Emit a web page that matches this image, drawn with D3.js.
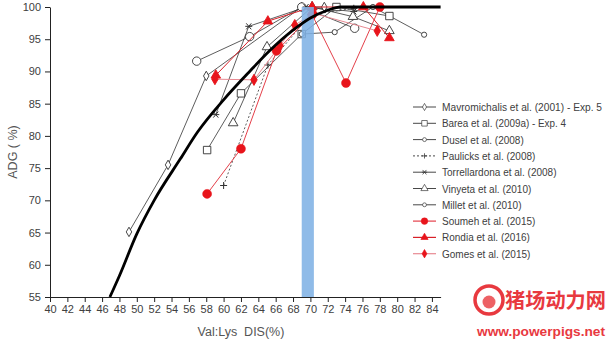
<!DOCTYPE html>
<html><head><meta charset="utf-8">
<script src="https://cdn.jsdelivr.net/npm/d3@7"></script>
<style>body{margin:0;background:#fff;} svg{display:block;font-family:"Liberation Sans",Arial,sans-serif;}</style>
</head><body><svg id="c" width="610" height="343"></svg>
<script>
// ---- data ----
const xTicks = [40,42,44,46,48,50,52,54,56,58,60,62,64,66,68,70,72,74,76,78,80,82,84];
const yTicks = [55,60,65,70,75,80,85,90,95,100];
const seriesNames = ["Mavromichalis et al. (2001) - Exp. 5","Barea et al. (2009a) - Exp. 4","Dusel et al. (2008)","Paulicks et al. (2008)","Torrellardona et al. (2008)","Vinyeta et al. (2010)","Millet et al. (2010)","Soumeh et al. (2015)","Rondia et al. (2016)","Gomes et al. (2015)"];
const mavromichalis = [[49.1,65.1],[53.6,75.5],[58.0,89.3],[69.0,100],[71.6,100]];
const barea = [[58.1,77.8],[62.0,86.6],[69.0,95.8],[73.0,100],[79.1,98.6]];
const dusel = [[56.9,91.6],[63.0,95.4],[69.0,100],[75.1,96.7]];
const paulicks = [[60.0,72.3],[65.1,91.0],[70.0,98.8],[75.0,99.8]];
const torrellardona = [[59.1,83.3],[62.9,97.0],[69.5,100],[75.0,99.3]];
const vinyeta = [[61.1,82.0],[65.0,93.8],[70.2,100],[74.9,98.5],[79.1,96.3]];
const millet = [[69.0,95.8],[72.8,96.1],[77.2,100],[83.1,95.7]];
const soumeh = [[58.1,71.0],[62.0,78.0],[66.1,93.2],[70.2,98.8],[74.1,88.2],[78.0,100]];
const rondia = [[59.1,89.4],[65.1,97.8],[70.2,100],[76.1,100],[79.1,95.2]];
const gomes = [[59.0,88.8],[63.5,88.7],[66.5,94.0],[68.2,97.2],[70.4,99.0],[77.7,96.3]];
const responseCurve = [[46.9,55],[48,58.3],[50,64.8],[52,70.0],[55,76.4],[57,80.6],[60,85.6],[63,90.0],[65.3,93.2],[68,96.4],[70,98.3],[72,99.5],[73.5,100],[85,100]];
const optimumBand = [69.0,70.4];

// ---- layout ----
const svg = d3.select("#c");
const x = d3.scaleLinear().domain([40,85]).range([50,440.6]);
const y = d3.scaleLinear().domain([55,100]).range([297,7]);
const txt = "#404040";

// axes
const xa = svg.append("g").attr("transform","translate(0,297)")
  .call(d3.axisBottom(x).tickValues(xTicks).tickSize(5).tickSizeOuter(0).tickPadding(3));
const ya = svg.append("g").attr("transform","translate(50,0)")
  .call(d3.axisLeft(y).tickValues(yTicks).tickSize(5).tickSizeOuter(0).tickPadding(4));
[xa,ya].forEach(a=>{
  a.selectAll("path,line").attr("stroke","#222").attr("stroke-width",1);
  a.selectAll("text").attr("fill",txt).style("font-size","11px");
});
svg.append("text").attr("transform","translate(17,152) rotate(-90)").attr("text-anchor","middle")
  .attr("fill","#555").style("font-size","12.5px").text("ADG ( %)");
svg.append("text").attr("x",241).attr("y",336).attr("text-anchor","middle")
  .attr("fill","#555").style("font-size","12.5px").attr("xml:space","preserve").text("Val:Lys  DIS(%)");

const line = d3.line().x(d=>x(d[0])).y(d=>y(d[1]));

const specs = [
  {d:mavromichalis, m:"diamond", c:"#333", fill:"#fff"},
  {d:barea, m:"square", c:"#333", fill:"#fff"},
  {d:dusel, m:"circle", c:"#333", fill:"#fff"},
  {d:paulicks, m:"plus", c:"#333", fill:"#fff", dash:"2,2"},
  {d:torrellardona, m:"asterisk", c:"#333", fill:"#fff"},
  {d:vinyeta, m:"triangle", c:"#333", fill:"#fff"},
  {d:millet, m:"smallcircle", c:"#333", fill:"#fff"},
  {d:soumeh, m:"bigcircle", c:"#e8141b", fill:"#e8141b", lc:"#e4404a"},
  {d:rondia, m:"triangle", c:"#e8141b", fill:"#e8141b", lc:"#d82028"},
  {d:gomes, m:"diamond2", c:"#e8141b", fill:"#e8141b", lc:"#e88a92"}
];

function marker(g, m, cx, cy, c, fill){
  const sym = (type,size)=>g.append("path").attr("d",d3.symbol().type(type).size(size)())
      .attr("transform",`translate(${cx},${cy})`).attr("fill",fill).attr("stroke",c).attr("stroke-width",0.9);
  if(m==="diamond") sym(d3.symbolDiamond,26);
  else if(m==="diamond2") sym(d3.symbolDiamond,36);
  else if(m==="square") sym(d3.symbolSquare,55);
  else if(m==="circle") g.append("circle").attr("cx",cx).attr("cy",cy).attr("r",4.2).attr("fill",fill).attr("stroke",c).attr("stroke-width",0.9);
  else if(m==="smallcircle") g.append("circle").attr("cx",cx).attr("cy",cy).attr("r",2.6).attr("fill",fill).attr("stroke",c).attr("stroke-width",0.9);
  else if(m==="bigcircle") g.append("circle").attr("cx",cx).attr("cy",cy).attr("r",4.5).attr("fill",fill).attr("stroke",c).attr("stroke-width",0.5);
  else if(m==="triangle") sym(d3.symbolTriangle,40);
  else if(m==="plus"){
    g.append("path").attr("d",`M${cx-3.5},${cy}h7M${cx},${cy-3.5}v7`).attr("stroke",c).attr("stroke-width",1);
  } else if(m==="asterisk"){
    g.append("path").attr("d",`M${cx-3.5},${cy}h7M${cx-2.5},${cy-3}l5,6M${cx+2.5},${cy-3}l-5,6`).attr("stroke",c).attr("stroke-width",1);
  }
}

// black series
const gS = svg.append("g");
specs.slice(0,7).forEach(s=>{
  gS.append("path").datum(s.d).attr("d",line).attr("fill","none").attr("stroke",s.lc||s.c)
    .attr("stroke-width",0.8).attr("stroke-dasharray",s.dash||null);
});
specs.slice(0,7).forEach(s=>s.d.forEach(p=>marker(gS,s.m,x(p[0]),y(p[1]),s.c,s.fill)));
// red series
specs.slice(7).forEach(s=>{
  gS.append("path").datum(s.d).attr("d",line).attr("fill","none").attr("stroke",s.lc)
    .attr("stroke-width",1);
});
specs.slice(7).forEach(s=>s.d.forEach(p=>marker(gS,s.m,x(p[0]),y(p[1]),s.c,s.fill)));

// optimum band
svg.append("rect").attr("x",x(optimumBand[0])).attr("width",x(optimumBand[1])-x(optimumBand[0]))
  .attr("y",y(100)).attr("height",y(55)-y(100)).attr("fill","#7fb2e5").attr("opacity",0.88);

// response curve
svg.append("path").datum(responseCurve).attr("d",d3.line().x(d=>x(d[0])).y(d=>y(d[1])).curve(d3.curveMonotoneX))
  .attr("fill","none").attr("stroke","#000").attr("stroke-width",2.8);

// legend
const lg = svg.append("g");
seriesNames.forEach((n,i)=>{
  const s = specs[i];
  const yy = 107 + i*16.3;
  lg.append("line").attr("x1",413).attr("x2",436).attr("y1",yy).attr("y2",yy)
    .attr("stroke",s.lc||s.c).attr("stroke-width",i>=7?1.2:0.9).attr("stroke-dasharray",s.dash||null);
  const mm = s.m==="circle"?"smallcircle":s.m;
  const g2 = lg.append("g");
  marker(g2, mm, 424.5, yy, s.c, s.fill);
  g2.attr("transform",`translate(424.5,${yy}) scale(0.75) translate(-424.5,${-yy})`);
  const t = lg.append("text").attr("x",442).attr("y",yy+4).attr("fill",txt).style("font-size","10px").text(n);
  if(i===0) t.attr("textLength",160).attr("lengthAdjust","spacingAndGlyphs");
  if(i===1) t.attr("textLength",124).attr("lengthAdjust","spacingAndGlyphs");
});

// watermark
const wm = svg.append("g");
wm.append("circle").attr("cx",489).attr("cy",300).attr("r",14).attr("fill","none").attr("stroke","#e8393f").attr("stroke-width",3.5);
wm.append("circle").attr("cx",489).attr("cy",302).attr("r",6.5).attr("fill","#e8393f").attr("opacity",0.8);
wm.append("text").attr("x",505).attr("y",308).attr("fill","#e8393f").style("font-family","'Noto Sans CJK SC'")
  .attr("textLength",101).attr("lengthAdjust","spacingAndGlyphs")
  .style("font-size","20px").style("font-weight","bold").text("猪场动力网");
wm.append("text").attr("x",477).attr("y",336).attr("fill","#e8393f")
  .attr("textLength",128).attr("lengthAdjust","spacingAndGlyphs")
  .style("font-size","13px").style("font-weight","bold").text("www.powerpigs.net");
</script></body></html>
